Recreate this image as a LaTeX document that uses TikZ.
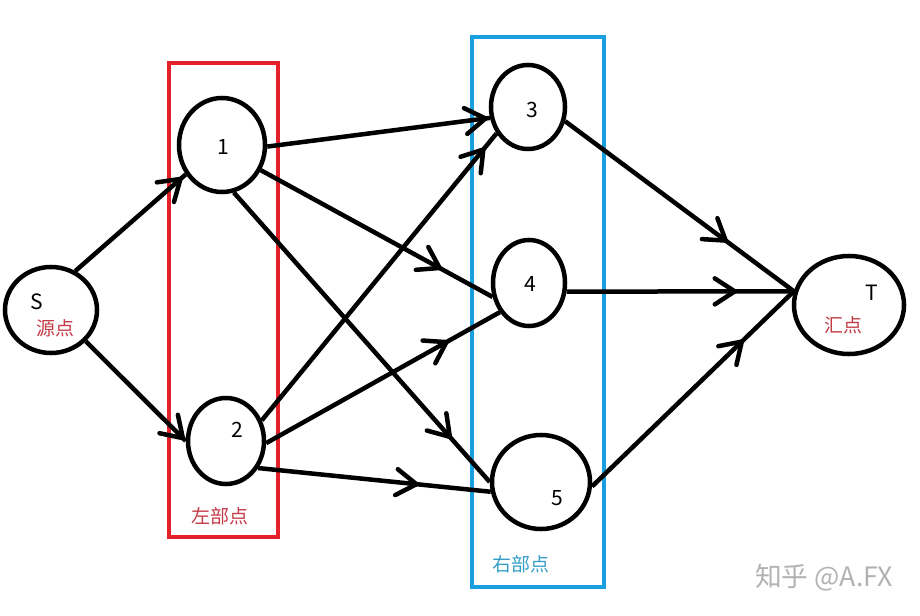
\documentclass[tikz,border=0pt]{standalone}
\usepackage{fontspec}
\newfontfamily\cjk{Noto Sans CJK SC}
\usepackage{tikz}
\usetikzlibrary{arrows.meta,shapes.geometric,decorations.markings}

\definecolor{leftred}{RGB}{228,32,42}
\definecolor{rightblue}{RGB}{24,160,222}
\definecolor{tagred}{RGB}{196,58,70}
\definecolor{tagblue}{RGB}{52,158,200}

\tikzset{
  vertex/.style 2 args={draw, ellipse, line width=3.2pt, minimum width=#1, minimum height=#2, inner sep=0pt},
  num/.style={font=\cjk\fontsize{15}{18}\selectfont, inner sep=0pt},
  tag/.style={font=\cjk\fontsize{13.5}{16}\selectfont, inner sep=0pt},
  edge/.style={line width=3.2pt},
  flow/.style={edge, postaction={decorate, decoration={markings,
      mark=at position #1 with {\arrow{Straight Barb[length=5mm,width=6.5mm,round]}}}}}
}

\begin{document}
\begin{tikzpicture}[x=0.025cm, y=-0.025cm]
			\useasboundingbox (0,0) rectangle (920,616);
			
			% Left and right parts
			\draw[leftred, line width=2.8pt] (169,63) rectangle (278,537);
			\draw[rightblue, line width=2.8pt] (472,37) rectangle (604,587);
			\node[tag, text=tagred] (leftTag) at (220,516) {左部点};
			\node[tag, text=tagblue] (rightTag) at (521,564) {右部点};
			
			% Vertices
			\node[vertex={2.3cm}{2.15cm}] (S) at (51,310) {};
			\node[vertex={2.15cm}{2.35cm}] (n1) at (222,145) {};
			\node[vertex={1.9cm}{2.15cm}] (n2) at (226,441) {};
			\node[vertex={1.85cm}{2.1cm}] (n3) at (528,107) {};
			\node[vertex={1.8cm}{2.15cm}] (n4) at (529,283) {};
			\node[vertex={2.45cm}{2.35cm}] (n5) at (541,482) {};
			\node[vertex={2.75cm}{2.45cm}] (T) at (849,305) {};
			
			\node[num] (lS) at (37,302) {S};
			\node[tag, text=tagred] (srcTag) at (55,328) {源点};
			\node[num] (l1) at (223,147) {1};
			\node[num] (l2) at (237,430) {2};
			\node[num] (l3) at (532,110) {3};
			\node[num] (l4) at (530,284) {4};
			\node[num] (l5) at (557,498) {5};
			\node[num] (lT) at (872,293) {T};
			\node[tag, text=tagred] (sinkTag) at (843,325) {汇点};
			
			% Edges
			\draw[flow=0.97] (S.58) -- (n1.-141);
			\draw[flow=0.99] (S.-42) -- (n2.180);
			\draw[flow=0.99] (n1.-2) -- (n3.-164);
			\draw[flow=0.78] (n1.-33) -- (n4.-159);
			\draw[flow=0.85] (n1.-76) -- (n5.180);
			\draw[flow=0.95] (n2.30) -- (n3.-140);
			\draw[flow=0.78] (n2.-3) -- (n4.-135);
			\draw[flow=0.69] (n2.-40) -- (n5.-169);
			\draw[flow=0.71] (n3.-21) -- (T.166);
			\draw[flow=0.75] (n4.-13) -- (T.166);
			\draw[flow=0.75] (n5.-5) -- (T.166);
			
			% Watermark
			\node[font=\cjk\fontsize{19}{22}\selectfont, text=black!30, inner sep=0pt] (mark) at (824,578) {知乎 @A.FX};
		\end{tikzpicture}
\end{document}
